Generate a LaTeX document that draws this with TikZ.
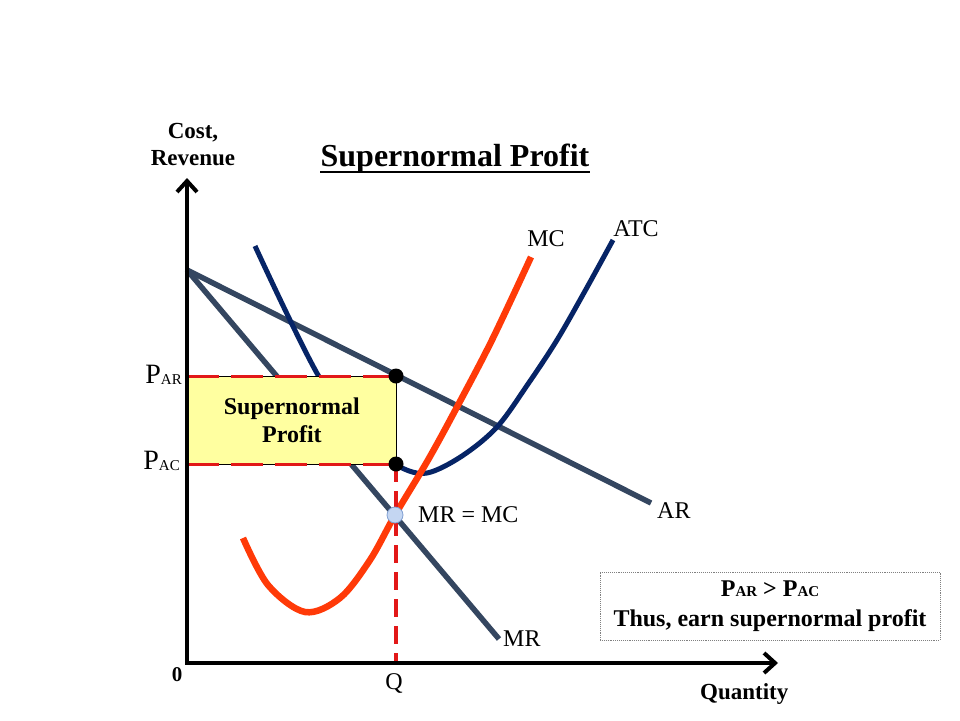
\documentclass[tikz,border=0pt]{standalone}
\usepackage{fontspec}
\setmainfont{Liberation Serif}
\usetikzlibrary{arrows.meta}
\definecolor{arcol}{RGB}{52,70,96}
\definecolor{atccol}{RGB}{6,36,102}
\definecolor{mccol}{RGB}{255,58,8}
\definecolor{dashred}{RGB}{226,24,24}
\definecolor{profitfill}{RGB}{255,255,160}
\definecolor{dotblue}{RGB}{196,214,242}
\definecolor{dotedge}{RGB}{130,160,210}
\begin{document}
\begin{tikzpicture}[x=1pt,y=-1pt,
  lbl/.style={inner sep=0pt, font=\fontsize{24}{28}\selectfont},
  blbl/.style={inner sep=0pt, font=\bfseries\fontsize{24}{28}\selectfont},
  slateline/.style={line width=5.5pt, draw=arcol},
  atcline/.style={line width=5pt, draw=atccol},
  mcline/.style={line width=6.5pt, draw=mccol},
  axisline/.style={line width=4pt, draw=black},
  hdash/.style={line width=3pt, draw=dashred, dash pattern=on 32pt off 12pt},
  vdash/.style={line width=3.5pt, draw=dashred, dash pattern=on 18pt off 9pt},
  bigdot/.style={circle, fill=black, inner sep=0pt, minimum size=15pt},
  bluedot/.style={circle, fill=dotblue, draw=dotedge, line width=0.8pt, inner sep=0pt, minimum size=16pt}
]
\useasboundingbox[fill=white] (0,0) rectangle (960,720);

% coordinates
\coordinate (O) at (187,663);
\coordinate (Ytop) at (187,178);
\coordinate (Xend) at (778,663);
\coordinate (Start) at (187,270);
\coordinate (AREnd) at (651,503);
\coordinate (MREnd) at (499,639);
\coordinate (PARpt) at (396,376);
\coordinate (PACpt) at (396,464);
\coordinate (Qpt) at (396,663);
\coordinate (EqPt) at (395,515);

% AR and MR
\draw[slateline] (Start) -- (MREnd);
\draw[slateline] (Start) -- (AREnd);

% ATC
\draw[atcline] plot[smooth, tension=0.55] coordinates {(255,246) (318,375) (370,445) (400,467) (427,473) (462,456) (497,427) (528,384) (557,340) (585,291) (613,240)};

% MC
\draw[mcline] plot[smooth, tension=0.55] coordinates {(243,538) (268,585) (305,612) (340,598) (370,560) (395,515) (428,460) (457,407) (492,340) (531,257)};

% profit box
\node[draw=black, line width=0.8pt, fill=profitfill, minimum width=209pt, minimum height=88pt, inner sep=0pt, anchor=north west,
      font=\bfseries\fontsize{24}{28}\selectfont, align=center] (profit) at (187,376) {Supernormal\\Profit};

% dashed guide lines
\draw[hdash] (187,376) -- (PARpt);
\draw[hdash] (187,464) -- (PACpt);
\draw[vdash] (PACpt) -- (Qpt);

% axes
\draw[axisline, {Straight Barb[length=11pt,width=20pt]}-{Straight Barb[length=11pt,width=20pt]}] (Ytop) -- (O) -- (Xend);

% dots
\node[bigdot] (dAR) at (PARpt) {};
\node[bigdot] (dAC) at (PACpt) {};
\node[bluedot] (dEq) at (EqPt) {};

% labels
\node[inner sep=0pt, font=\bfseries\fontsize{23}{27}\selectfont, align=center, anchor=base] (ylab) at (193,165) {Cost,\\Revenue};
\node[inner sep=0pt, font=\bfseries\fontsize{32}{36}\selectfont, anchor=base] (title) at (455,166) {Supernormal Profit};
\draw[line width=2.2pt] ([yshift=-6pt]title.base west) -- ([yshift=-6pt]title.base east);

\node[lbl, anchor=base] (mclab) at (546,246) {MC};
\node[lbl, anchor=base] (atclab) at (636,236) {ATC};
\node[lbl, anchor=base west] (arlab) at (657,518) {AR};
\node[lbl, anchor=base west] (mrlab) at (503,646) {MR};
\node[lbl, anchor=base west] (eqlab) at (418,522) {MR = MC};

\node[inner sep=0pt, anchor=base east] (par) at (182,383) {\fontsize{28}{28}\selectfont P\raisebox{-1pt}{\fontsize{15}{15}\selectfont AR}};
\node[inner sep=0pt, anchor=base east] (pac) at (180,469) {\fontsize{28}{28}\selectfont P\raisebox{-1pt}{\fontsize{15}{15}\selectfont AC}};

\node[inner sep=0pt, font=\bfseries\fontsize{21}{21}\selectfont, anchor=base] (zero) at (177,681) {0};
\node[lbl, anchor=base] (qlab) at (394,689) {Q};
\node[inner sep=0pt, font=\bfseries\fontsize{23}{27}\selectfont, anchor=base west] (qtylab) at (700,699) {Quantity};

% note box
\node[draw=gray, densely dotted, line width=0.9pt, minimum width=340pt, minimum height=68pt, inner sep=0pt, align=center,
      font=\bfseries\fontsize{24}{30}\selectfont] (note) at (770,606)
  {P{\fontsize{15}{15}\selectfont AR} > P{\fontsize{15}{15}\selectfont AC}\\Thus, earn supernormal profit};

\end{tikzpicture}
\end{document}
